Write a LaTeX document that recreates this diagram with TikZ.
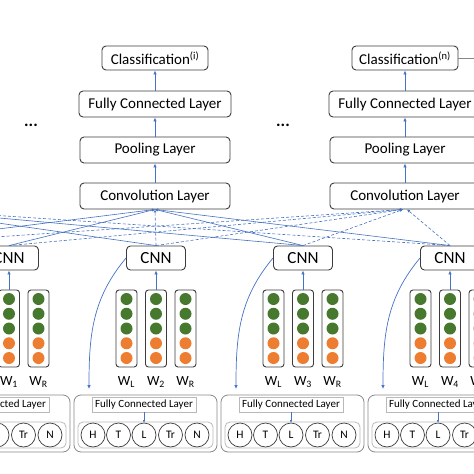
\documentclass[tikz,border=0pt]{standalone}
\usepackage{fontspec}
\setmainfont{Carlito}
\usetikzlibrary{positioning,arrows.meta}
\definecolor{lineblue}{RGB}{68,114,196}
\definecolor{leafgreen}{RGB}{70,120,45}
\definecolor{dotorange}{RGB}{237,125,49}
\definecolor{boxgray}{RGB}{60,60,60}
\definecolor{panelgray}{RGB}{135,135,135}
\definecolor{innergray}{RGB}{185,185,185}

\begin{document}
\begin{tikzpicture}[x=1pt, y=-1pt, node distance=46pt,
        layer node/.style={draw=boxgray, rounded corners=4pt, line width=0.9pt, minimum width=150pt,
            minimum height=26pt, inner sep=2pt, font=\fontsize{15}{18}\selectfont},
        class node/.style={layer node, minimum width=106pt, minimum height=24pt},
        cnn node/.style={layer node, minimum width=59pt, minimum height=24pt, font=\fontsize{17}{20}\selectfont},
        word node/.style={draw=boxgray, rounded corners=3pt, line width=0.9pt, minimum width=21pt,
            minimum height=77pt, inner sep=0pt,
            path picture={\foreach \dy/\dotcol in {29.5/leafgreen,14.75/leafgreen,0/leafgreen,-14.75/dotorange,-29.5/dotorange}
                \fill[\dotcol] ([yshift=\dy pt]path picture bounding box.center) circle (6pt);}},
        wlabel/.style={font=\fontsize{14}{16}\selectfont, inner sep=0pt},
        panel node/.style={draw=panelgray, rounded corners=7pt, line width=0.8pt, minimum width=143pt, minimum height=57pt},
        fc node/.style={draw=innergray, line width=0.8pt, minimum width=104pt, minimum height=15pt,
            inner sep=1pt, font=\fontsize{11}{13}\selectfont},
        row node/.style={draw=innergray, rounded corners=5pt, line width=0.8pt, minimum width=135pt, minimum height=26pt},
        tag node/.style={circle, draw=boxgray, line width=0.7pt, minimum size=24pt, inner sep=0pt,
            font=\fontsize{11.5}{13}\selectfont},
        flow/.style={draw=lineblue, line width=0.7pt, -{Latex[length=4pt,width=3.5pt]}},
        flow small/.style={draw=lineblue, line width=0.5pt, -{Latex[length=2.5pt,width=2.5pt]}},
        mesh/.style={draw=lineblue, line width=0.6pt, -{Latex[length=3pt,width=3pt]}},
        mesh dash/.style={mesh, dash pattern=on 3pt off 2pt}]

    \useasboundingbox (0,0) rectangle (474,474);

    % stack i
    \node[layer node] (convi) at (155,196) {Convolution Layer};
    \node[layer node] (pooli) [above of=convi] {Pooling Layer};
    \node[layer node, minimum width=152pt] (fci) [above of=pooli] {Fully Connected Layer};
    \node[class node] (classi) [above of=fci] {Classification\textsuperscript{(i)}};

    % stack n
    \node[layer node] (convn) at (405,196) {Convolution Layer};
    \node[layer node] (pooln) [above of=convn] {Pooling Layer};
    \node[layer node, minimum width=152pt] (fcn) [above of=pooln] {Fully Connected Layer};
    \node[class node] (classn) [above of=fcn] {Classification\textsuperscript{(n)}};
    \coordinate (outn) at (480,58);

    \node[font=\fontsize{17}{18}\bfseries] (dotsi) at (31,125) {...};
    \node[font=\fontsize{17}{18}\bfseries] (dotsn) at (283,125) {...};

    \draw[flow] (convi) -- (pooli);
    \draw[flow] (pooli) -- (fci);
    \draw[flow] (fci) -- (classi);
    \draw[flow] (convn) -- (pooln);
    \draw[flow] (pooln) -- (fcn);
    \draw[flow] (fcn) -- (classn);
    \draw[draw=panelgray, line width=0.7pt] (classn) -- (outn);

    % one column per word
    \foreach \k/\x in {1/9, 2/156, 3/303, 4/450} {
        \node[cnn node] (cnn\k) at (\x,258) {CNN};
        \node[word node, node distance=70.5pt, below of=cnn\k] (wm\k) {};
        \node[word node, node distance=29.5pt, left of=wm\k] (wl\k) {};
        \node[word node, node distance=29.5pt, right of=wm\k] (wr\k) {};
        \node[wlabel, below=9pt of wl\k] (ll\k) {W\textsubscript{L}};
        \node[wlabel, below=9pt of wm\k] (lm\k) {W\textsubscript{\k}};
        \node[wlabel, below=9pt of wr\k] (lr\k) {W\textsubscript{R}};
        \draw[flow] (wm\k) -- (cnn\k);

        \node[panel node] (pan\k) at (\x-10.5,423.5) {};
        \node[fc node] (fcp\k) at (\x-12,404.5) {Fully Connected Layer};
        \node[row node] (row\k) at (\x-10.5,435) {};
        \node[tag node] (l\k) at (\x-12,435) {L};
        \node[tag node, node distance=25.5pt, left of=l\k] (t\k) {T};
        \node[tag node, node distance=25.5pt, left of=t\k] (h\k) {H};
        \node[tag node, node distance=26.5pt, right of=l\k] (tr\k) {Tr};
        \node[tag node, node distance=26.5pt, right of=tr\k] (n\k) {N};
        \draw[flow small] (fcp\k) -- (l\k);

        \coordinate (in\k) at (\x-67,389);
        \draw[flow] (cnn\k.west) to[out=230,in=90] (in\k);
    }

    % cnn outputs to the convolution layers
    \coordinate (cnn0) at (-138,246);
    \coordinate (convl) at (-100,209);
    \draw[mesh] (cnn0) -- (convi.south);
    \draw[mesh] (cnn1.north) -- (convi.south);
    \draw[mesh dash] (cnn2.north) -- (convi.south);
    \draw[mesh] (cnn3.north) -- (convi.south);
    \draw[mesh] (cnn4.north) -- (convi.south);
    \draw[mesh dash] (cnn0) -- ([xshift=-2pt]convn.south);
    \draw[mesh dash] (cnn1.north) -- ([xshift=-2pt]convn.south);
    \draw[mesh dash] (cnn2.north) -- ([xshift=-2pt]convn.south);
    \draw[mesh dash] (cnn3.north) -- ([xshift=-2pt]convn.south);
    \draw[mesh dash] (cnn4.north) -- ([xshift=2pt]convn.south);
    \draw[mesh] (cnn2.north) -- (convl);
    \draw[mesh] (cnn3.north) -- (convl);
    \draw[mesh dash] (cnn4.north) -- (convl);
\end{tikzpicture}
\end{document}
